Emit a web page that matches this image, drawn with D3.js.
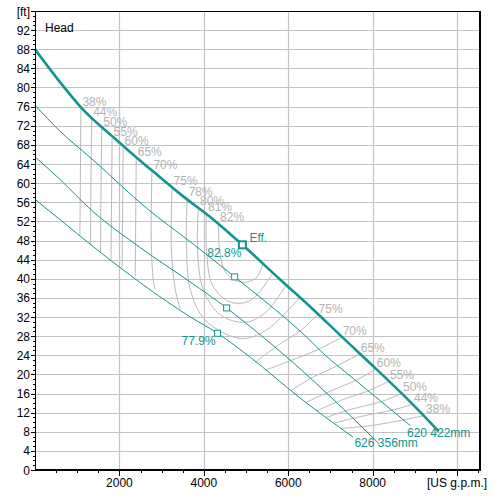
<!DOCTYPE html>
<html><head><meta charset="utf-8">
<script src="https://cdn.jsdelivr.net/npm/d3@7"></script>
<style>html,body{margin:0;padding:0;background:#fff;} svg{display:block;font-family:"Liberation Sans",Arial,sans-serif;}</style>
</head><body><svg id="c" width="500" height="500"></svg>
<script>
// ---------- DATA ----------
const yTickValues = [0,4,8,12,16,20,24,28,32,36,40,44,48,52,56,60,64,68,72,76,80,84,88,92];
const yUnitLabel = "[ft]";
const xTickValues = [2000,4000,6000,8000];
const xUnitLabel = "[US g.p.m.]";
const titleLabel = "Head";

// Pump curves (flow US gpm, head ft)
const flow422 = [0, 550, 1105, 1857, 2493, 2969, 3445, 4238, 4914, 5826, 6540, 7255, 8088, 8921, 9564];
const head422 = [88, 81.6, 75.7, 69.6, 64.7, 61.2, 57.7, 52.3, 47.1, 39.7, 34.0, 28.0, 21.1, 14.0, 8.1];
const flowA = [0, 588, 1381, 2652, 3683, 4731, 5112, 6302, 7017, 7255, 8890];
const headA = [76.3, 70.9, 64.8, 54.7, 47.7, 40.4, 37.7, 28.9, 22.9, 21.2, 9.3];
const flowB = [0, 588, 1343, 2495, 3683, 4540, 5112, 6302, 7017, 8150];
const headB = [65.5, 60.8, 54.3, 46.5, 39.3, 33.9, 29.9, 21.0, 15.2, 5.5];
const flow356 = [0, 588, 1424, 3683, 4326, 5112, 6302, 7533];
const head356 = [56.6, 52.4, 46.4, 32.0, 28.6, 23.5, 14.9, 6.9];
const label422 = "620 422mm";
const label356 = "626 356mm";

// operating / efficiency points
const effPoint = {q: 4914, h: 47.1, label: "Eff.", value: "82.8%"};
const markerFlows = [4731, 4540, 4326];
const markerHeads = [40.4, 33.9, 28.6];
const lowMarkerLabel = "77.9%";

// Iso-efficiency lines (left-hand branches incl. closed noses), first point = label point
const isoLeft = [
  {pct:"38%", q:[1088,1076,1064], h:[75.6,62.7,49.0]},
  {pct:"44%", q:[1343,1326,1314], h:[73.5,60.6,47.2]},
  {pct:"50%", q:[1581,1564,1552], h:[71.4,58.5,45.6]},
  {pct:"55%", q:[1826,1814,1802], h:[69.3,56.4,44.0]},
  {pct:"60%", q:[2088,2076,2064], h:[67.4,54.3,42.3]},
  {pct:"65%", q:[2398,2386,2374], h:[65.2,52.2,40.4]},
  {pct:"70%", q:[2771,2755,2802,2850], h:[62.5,48.1,39.7,37.7]},
  {pct:"75%", q:[3248,3231,3327,3445], h:[59.1,46.0,37.6,33.5]},
  {pct:"78%", q:[3605,3588,3683,4041,4874,5469,6255], h:[56.7,48.1,37.6,31.3,27.5,29.2,35.9]},
  {pct:"80%", q:[3874,3850,3993,4397,4993,5469,5945], h:[54.9,46.0,37.6,32.4,30.9,33.0,38.6]},
  {pct:"81%", q:[4064,4064,4207,4636,5112,5636], h:[53.6,46.0,38.6,35.1,35.5,41.2]},
  {pct:"82%", q:[4350,4373,4516,4874,5231,5398], h:[51.5,46.0,41.4,39.3,40.1,43.1]}
];
const isoRight = [
  {pct:"75%", q:[6683,6302,5826,5231], h:[32.4,29.2,26.5,22.6]},
  {pct:"70%", q:[7255,6659,6064,5469], h:[27.7,25.0,22.9,20.9]},
  {pct:"65%", q:[7683,7136,6540,6064], h:[24.2,21.7,19.2,16.6]},
  {pct:"60%", q:[8064,7540,6969,6421], h:[21.0,18.5,16.4,14.1]},
  {pct:"55%", q:[8373,7850,7255,6683], h:[18.5,16.4,14.6,12.4]},
  {pct:"50%", q:[8683,8207,7493,6898], h:[16.0,14.3,12.7,11.0]},
  {pct:"44%", q:[8945,8445,7731,7088], h:[13.7,12.5,11.2,9.8]},
  {pct:"38%", q:[9231,8683,7969,7255], h:[11.4,10.4,9.3,8.7]}
];

// ---------- DRAW ----------
const teal = "#12958f", grid = "#c3c3c3", iso = "#b9b9b9", isoText = "#b4b4b4";
const svg = d3.select("#c");
const x = d3.scaleLinear().domain([0, 10520]).range([35, 479]);
const y = d3.scaleLinear().domain([0, 96]).range([470, 11]);
const zip = (qs, hs) => qs.map((q, i) => [q, hs[i]]);

// grid
svg.append("g").selectAll("line").data(yTickValues.filter(v => v > 0)).join("line")
  .attr("x1", x(0)).attr("x2", x.range()[1]).attr("y1", d => Math.round(y(d)) + 0.5).attr("y2", d => Math.round(y(d)) + 0.5)
  .attr("stroke", grid).attr("stroke-width", 1.2);
svg.append("g").selectAll("line").data(xTickValues.concat([10000])).join("line")
  .attr("y1", y(96)).attr("y2", y(0)).attr("x1", d => Math.round(x(d)) + 0.5).attr("x2", d => Math.round(x(d)) + 0.5)
  .attr("stroke", grid).attr("stroke-width", 1.2);

// iso-efficiency lines
const isoLine = d3.line().x(d => x(d[0])).y(d => y(d[1])).curve(d3.curveCatmullRom.alpha(0.5));
const isoAll = isoLeft.concat(isoRight);
svg.append("g").selectAll("path").data(isoAll).join("path")
  .attr("d", d => isoLine(zip(d.q, d.h))).attr("fill", "none").attr("stroke", iso).attr("stroke-width", 1);

// pump curves
const pLine = d3.line().x(d => x(d[0])).y(d => y(d[1])).curve(d3.curveMonotoneX);
[[flowA, headA], [flowB, headB], [flow356, head356]].forEach(([q, h]) => {
  svg.append("path").attr("d", pLine(zip(q, h))).attr("fill", "none").attr("stroke", teal).attr("stroke-width", 1);
});
svg.append("path").attr("d", pLine(zip(flow422, head422))).attr("fill", "none").attr("stroke", teal).attr("stroke-width", 2.6);

// iso labels
svg.append("g").selectAll("text").data(isoAll).join("text")
  .attr("x", d => x(d.q[0]) + 1.5).attr("y", d => y(d.h[0]) - 2.5)
  .attr("font-size", 12).attr("fill", isoText).text(d => d.pct);

// markers
svg.append("g").selectAll("rect").data(zip(markerFlows, markerHeads)).join("rect")
  .attr("x", d => x(d[0]) - 3).attr("y", d => y(d[1]) - 3).attr("width", 6).attr("height", 6)
  .attr("fill", "#fff").attr("stroke", teal).attr("stroke-width", 1);
svg.append("rect").attr("x", x(effPoint.q) - 3.5).attr("y", y(effPoint.h) - 3.5).attr("width", 7).attr("height", 7)
  .attr("fill", "#fff").attr("stroke", teal).attr("stroke-width", 2);
svg.append("text").attr("x", x(effPoint.q) + 7).attr("y", y(effPoint.h) - 3).attr("font-size", 12).attr("fill", teal).text(effPoint.label);
svg.append("text").attr("x", x(effPoint.q) - 1).attr("y", y(effPoint.h) + 12.5).attr("text-anchor", "end").attr("font-size", 12).attr("fill", teal).text(effPoint.value);
svg.append("text").attr("x", x(markerFlows[2]) - 2).attr("y", y(markerHeads[2]) + 11.5).attr("text-anchor", "end").attr("font-size", 12).attr("fill", teal).text(lowMarkerLabel);

// curve end labels
svg.append("text").attr("x", x(flow422[flow422.length-1])).attr("y", y(head422[head422.length-1]) + 5.5)
  .attr("text-anchor", "middle").attr("font-size", 12).attr("fill", teal).text(label422);
svg.append("text").attr("x", x(flow356[flow356.length-1]) + 1.5).attr("y", y(head356[head356.length-1]) + 9.5)
  .attr("font-size", 12).attr("fill", teal).text(label356);

// axes
const ax = svg.append("g");
// y ticks
ax.selectAll("line.ym").data(d3.range(0, 97, 1)).join("line")
  .attr("x1", d => d % 4 === 0 ? 31 : 33).attr("x2", 35).attr("y1", d => Math.round(y(d)) + 0.5).attr("y2", d => Math.round(y(d)) + 0.5)
  .attr("stroke", "#000").attr("stroke-width", 1);
ax.selectAll("text.yl").data(yTickValues).join("text")
  .attr("x", 30).attr("y", d => y(d) + 4.5).attr("text-anchor", "end").attr("font-size", 12).attr("fill", "#000").text(d => d);
ax.append("text").attr("x", 30).attr("y", y(96) + 5).attr("text-anchor", "end").attr("font-size", 12).attr("fill", "#000").text(yUnitLabel);
// x ticks
ax.selectAll("line.xm").data(d3.range(500, 10520, 500)).join("line")
  .attr("x1", d => Math.round(x(d)) + 0.5).attr("x2", d => Math.round(x(d)) + 0.5)
  .attr("y1", 470).attr("y2", d => d % 2000 === 0 ? 476 : 473).attr("stroke", "#000").attr("stroke-width", 1);
ax.selectAll("text.xl").data(xTickValues).join("text")
  .attr("x", d => x(d)).attr("y", 487).attr("text-anchor", "middle").attr("font-size", 12).attr("fill", "#000").text(d => d);
ax.append("text").attr("x", x(10000)).attr("y", 487).attr("text-anchor", "middle").attr("font-size", 12).attr("fill", "#000").text(xUnitLabel);
// frame
ax.append("line").attr("x1", 35.5).attr("x2", 35.5).attr("y1", 11).attr("y2", 470).attr("stroke", "#000").attr("stroke-width", 1);
ax.append("line").attr("x1", 35).attr("x2", 480).attr("y1", 11.5).attr("y2", 11.5).attr("stroke", "#000").attr("stroke-width", 1);
ax.append("line").attr("x1", 480).attr("x2", 480).attr("y1", 11).attr("y2", 471).attr("stroke", "#000").attr("stroke-width", 2);
ax.append("line").attr("x1", 35).attr("x2", 481).attr("y1", 470).attr("y2", 470).attr("stroke", "#000").attr("stroke-width", 2);

svg.append("text").attr("x", 45).attr("y", 32).attr("font-size", 12).attr("fill", "#000").text(titleLabel);
</script></body></html>
